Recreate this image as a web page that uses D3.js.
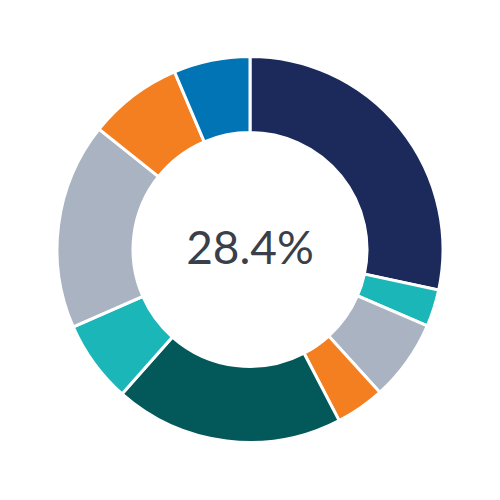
<!DOCTYPE html>
<html><head><meta charset="utf-8">
<script src="https://cdn.jsdelivr.net/npm/d3@7"></script>
<style>html,body{margin:0;padding:0;background:#fff;}</style>
</head><body>
<svg id="chart" width="500" height="500"></svg>
<script>
const categories = ["A","B","C","D","E","F","G","H","I"];
const values = [28.4, 3.1, 6.8, 4.1, 19.2, 6.9, 17.3, 7.9, 6.4];
const colors = ["#1b2a5a","#1bb6b8","#a9b3c1","#f47f20","#03585a","#1bb6b8","#a9b3c1","#f47f20","#0074b5"];
const centerLabel = "28.4%";

const svg = d3.select("#chart");
const g = svg.append("g").attr("transform","translate(250,249.5)");
const pie = d3.pie().sort(null).value(d => d.v);
const arc = d3.arc().innerRadius(117).outerRadius(193);
const data = categories.map((c,i)=>({c, v: values[i], col: colors[i]}));
g.selectAll("path").data(pie(data)).join("path")
  .attr("d", arc)
  .attr("fill", d => d.data.col)
  .attr("stroke", "#fff")
  .attr("stroke-width", 3)
  .attr("stroke-linejoin","miter");
g.append("text")
  .attr("text-anchor","middle")
  .attr("y", 14)
  .attr("font-family","Lato, 'Open Sans', sans-serif")
  .attr("font-size", 46)
  .attr("fill","#3a3f4a")
  .text(centerLabel);
</script>
</body></html>
